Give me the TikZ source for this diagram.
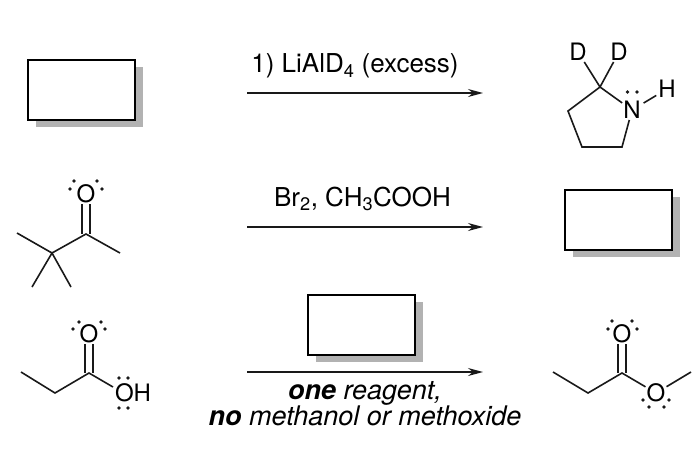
\documentclass[tikz,border=0pt]{standalone}
\usepackage{fontspec}
\setmainfont{TeX Gyre Heros}
\usetikzlibrary{arrows.meta,shadows}
\tikzset{
  atom/.style={inner sep=1pt,font=\fontsize{24}{28}\selectfont},
  bond/.style={line width=1.6pt,black!90},
  rxn/.style={line width=1.4pt,black!90,-{Stealth[length=15pt,width=8pt]}},
  answerbox/.style={draw=black,line width=2pt,fill=white,minimum width=107pt,minimum height=60pt,inner sep=0pt,
    drop shadow={shadow xshift=7.5pt,shadow yshift=-7pt,fill=black!30,opacity=1}},
  reagent/.style={inner sep=0pt,align=center,font=\fontsize{26}{29}\selectfont},
}
\newcommand{\lonepairs}[1]{\foreach \px/\py in {#1} \fill[black!90] (\px,\py) circle(1.8pt);}
\begin{document}
\begin{tikzpicture}[x=1pt,y=-1pt]
  \useasboundingbox (0,0) rectangle (700,448);
  % answer boxes
  \node[answerbox] (boxA) at (81.5,90) {};
  \node[answerbox] (boxB) at (618.5,220) {};
  \node[answerbox] (boxC) at (361.5,325) {};
  % arrows
  \coordinate (aStart) at (247,93);   \coordinate (aEnd) at (483,93);
  \coordinate (bStart) at (247,227);  \coordinate (bEnd) at (483,227);
  \coordinate (cStart) at (247,372);  \coordinate (cEnd) at (483,372);
  \draw[rxn] (aStart)--(aEnd);
  \draw[rxn] (bStart)--(bEnd);
  \draw[rxn] (cStart)--(cEnd);
  \node[reagent] (condA) at (355,66) {1) LiAlD\textsubscript{4} (excess)};
  \node[reagent] (condB) at (362.5,199) {Br\textsubscript{2}, CH\textsubscript{3}COOH};
  \node[reagent,font=\fontsize{27}{26}\selectfont] (condC) at (365,404) {\textbf{\textit{one}} \textit{reagent,}\\\textbf{\textit{no}} \textit{methanol or methoxide}};
  % pyrrolidine
  \coordinate (pC) at (600,87);
  \coordinate (pR) at (568,111);
  \coordinate (pS) at (582,147);
  \coordinate (pT) at (622,147);
  \node[atom] (pD) at (578,52) {D};
  \node[atom] (pE) at (619,52) {D};
  \node[atom] (pN) at (632,110) {N};
  \node[atom] (pH) at (667,89) {H};
  \draw[bond] (pD)--(pC);
  \draw[bond] (pE)--(pC);
  \draw[bond] (pN)--(pC)--(pR)--(pS)--(pT)--(pN);
  \draw[bond,shorten <=2pt,shorten >=1pt] (pN)--(pH);
  \lonepairs{627.5/92,637/92}
  % ketone
  \coordinate (kC) at (86,234);
  \coordinate (kM) at (120,253);
  \coordinate (kQ) at (52,253);
  \coordinate (kT) at (17,233);
  \coordinate (kU) at (32,287);
  \coordinate (kV) at (71,287);
  \node[atom] (kO) at (86,194) {O};
  \draw[bond] ([xshift=-4pt]kO.south)--([xshift=-4pt]kC);
  \draw[bond] ([xshift=4pt]kO.south)--([xshift=4pt]kC);
  \draw[bond] (kM)--(kC)--(kQ)--(kT);
  \draw[bond] (kU)--(kQ)--(kV);
  \lonepairs{74/181,70/189,97/181,102/189}
  % acid
  \coordinate (cC) at (89,373);
  \coordinate (cD) at (55,393);
  \coordinate (cE) at (21,372);
  \node[atom] (cO) at (89,334) {O};
  \node[atom] (cH) at (133,393) {OH};
  \draw[bond] ([xshift=-4pt]cO.south)--([xshift=-4pt]cC);
  \draw[bond] ([xshift=4pt]cO.south)--([xshift=4pt]cC);
  \draw[bond] (cE)--(cD)--(cC)--(113,387);
  \lonepairs{79/322,73/329,101/322,105/329,119/378,128/378,119/408,128/408}
  % ester
  \coordinate (eC) at (622,373);
  \coordinate (eD) at (588,393);
  \coordinate (eE) at (553,372);
  \coordinate (eM) at (691,372);
  \node[atom] (eO) at (622,334) {O};
  \node[atom] (eP) at (656,393) {O};
  \draw[bond] ([xshift=-4pt]eO.south)--([xshift=-4pt]eC);
  \draw[bond] ([xshift=4pt]eO.south)--([xshift=4pt]eC);
  \draw[bond] (eE)--(eD)--(eC)--(eP)--(eM);
  \lonepairs{612/321,608/329,632/321,637/329,643/400,649/407,664/407,669/400}
\end{tikzpicture}
\end{document}
